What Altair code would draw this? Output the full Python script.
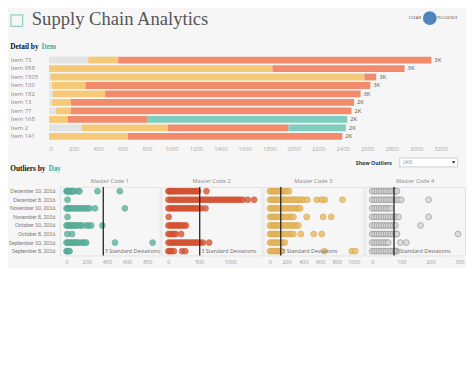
import altair as alt
import pandas as pd

# ---------------- Detail by Item ----------------
items = ["Item 73", "Item 958", "Item 1505", "Item 100", "Item 182",
         "Item 13", "Item 77", "Item 168", "Item 2", "Item 141"]
segment_names = ["Gray", "Yellow", "Orange", "Teal"]
segment_colors = ["#e3e3e3", "#f6c978", "#f28b6c", "#80ccbf"]
gray_vals = [320, 0, 13, 24, 32, 24, 58, 0, 266, 0]
yellow_vals = [245, 1826, 2565, 274, 426, 154, 120, 152, 704, 645]
orange_vals = [2560, 1080, 96, 2328, 2088, 2315, 2294, 648, 987, 1752]
teal_vals = [0, 0, 0, 0, 0, 0, 0, 1637, 469, 0]
total_labels = ["3K", "3K", "3K", "3K", "3K", "2K", "2K", "2K", "2K", "2K"]
bar_ticks = list(range(0, 3201, 200))

# ---------------- Outliers by Day ----------------
days = ["December 10, 2016", "December 8, 2016", "November 10, 2016", "November 8, 2016",
        "October 10, 2016", "October 8, 2016", "September 10, 2016", "September 8, 2016"]
panel_names = ["Master Code 1", "Master Code 2", "Master Code 3", "Master Code 4"]
std_dev = [364, 507, 130, 75]
panel_domains = [[-66, 923], [-109, 1506], [-77, 1115], [-24, 319]]
panel_ticks = [[0, 200, 400, 600, 800], [0, 500, 1000], [0, 200, 400, 600, 800, 1000], [0, 100, 200, 300]]
panel_fill = ["#5db39e", "#dc5533", "#ebba5c", "#d6d6d6"]
panel_stroke = ["#4fa590", "#c94a2a", "#d3a145", "#8e8e8e"]

mc1 = [
    [0, 8, 15, 22, 30, 38, 45, 55, 65, 75, 115, 128, 307, 528],
    [10],
    [0, 12, 25, 40, 55, 70, 90, 110, 130, 150, 170, 190, 210, 228, 282, 578],
    [10],
    [0, 12, 25, 40, 55, 70, 85, 100, 120, 140, 160, 200, 220, 245, 355],
    [8, 55],
    [0, 12, 25, 40, 55, 70, 85, 100, 115, 140, 160, 180, 195, 480, 853],
    [0, 10, 20, 30],
]
mc2 = [
    [0, 20, 40, 60, 80, 100, 130, 160, 190, 220, 250, 280, 310, 340, 370, 400, 430, 460, 480, 616],
    [0, 40, 80, 120, 160, 200, 240, 280, 320, 360, 400, 440, 480, 520, 560, 600, 640, 680, 720,
     760, 800, 840, 880, 920, 960, 1000, 1040, 1080, 1120, 1160, 1206, 1284, 1387],
    [0, 30, 60, 90, 120, 150, 180, 210, 240, 270, 300, 330, 360, 390, 420, 450, 480, 533, 600],
    [5],
    [0, 30, 60, 90, 120, 150, 180, 210, 250, 285],
    [0, 30, 60, 90, 120, 207],
    [0, 30, 60, 90, 120, 150, 180, 210, 240, 270, 300, 330, 360, 390, 420, 450, 480, 520, 560, 660],
    [0, 25, 50, 90, 222, 274],
]
mc3 = [
    [0, 20, 40, 60, 80, 100, 125, 150, 175, 200, 229],
    [0, 25, 50, 75, 100, 130, 160, 190, 220, 250, 280, 310, 340, 370, 400, 447, 561, 619, 656, 866],
    [0, 25, 50, 75, 100, 130, 160, 190, 220, 250, 280, 310, 340, 360],
    [0, 25, 50, 75, 100, 130, 160, 190, 220, 250, 280, 439, 637, 733],
    [0, 25, 50, 75, 100, 130, 160, 190, 220, 250, 280, 310, 340],
    [0, 25, 50, 75, 100, 130, 160, 190, 220, 250, 280, 370, 523, 619],
    [0, 25, 50, 75, 100, 130, 155, 180],
    [0, 25, 50, 75, 100, 120, 140, 650, 980, 1020],
]
mc4 = [
    [0, 8, 16, 24, 32, 40, 48, 56, 64, 72, 80, 85],
    [0, 8, 16, 24, 32, 40, 48, 56, 64, 72, 80, 90, 100, 194],
    [0, 8, 16, 24, 32, 40, 48, 56, 64],
    [0, 8, 16, 24, 32, 40, 48, 56, 64, 72, 80, 90, 194],
    [0, 8, 16, 24, 32, 40, 48, 56, 64, 72, 80, 166],
    [0, 8, 16, 24, 32, 40, 48, 56, 64, 72, 80, 85, 295],
    [0, 8, 16, 24, 32, 40, 48, 55, 97, 117],
    [0, 8, 16, 24, 32, 40, 48, 56, 64, 72, 80, 85],
]
panel_values = [mc1, mc2, mc3, mc4]

texts = {
    "title": "Supply Chain Analytics",
    "detail": "Detail by",
    "item": "Item",
    "outliers": "Outliers by",
    "day": "Day",
    "show": "Show Outliers",
    "all": "(All)",
    "sd": "3 Standard Deviations",
    "clear": "CLEAR",
    "tell": "TELLIGENCE",
}

SERIF = "Liberation Serif"
SANS = "Open Sans"
TEAL_TXT = "#3aaea0"
dummy = pd.DataFrame({"k": [0]})
LEFT = -39.7          # left edge of the page area relative to the plot origin
PANEL_W = 102
PANEL_H = 70


def txt(s, x, y, size, color="#333", weight="normal", font=SERIF, align="left"):
    return alt.Chart(dummy).mark_text(
        text=s, align=align, baseline="middle", fontSize=size, color=color,
        fontWeight=weight, font=font
    ).encode(x=alt.value(x), y=alt.value(y))


# ---------- header ----------
icon = alt.Chart(dummy).mark_square(size=140, filled=False, color="#6cc1b3", strokeWidth=1.3).encode(
    x=alt.value(-33), y=alt.value(10))
logo = alt.Chart(dummy).mark_circle(size=200, color="#3f78b5", opacity=0.9).encode(
    x=alt.value(389), y=alt.value(7.5))
header = alt.layer(
    icon,
    txt(texts["title"], -17.7, 9, 19, "#555"),
    txt(texts["clear"], 380, 7.5, 4.2, "#555", font=SANS, align="right"),
    logo,
    txt(texts["tell"], 396, 7.5, 3.8, "#555", font=SANS),
    txt(texts["detail"], LEFT, 37, 7.5, "#111", "bold"),
    txt(texts["item"], LEFT + 32, 37, 7.5, TEAL_TXT, "bold"),
).properties(width=418, height=45.7, view=alt.ViewBackground(stroke=None))

# ---------- bar chart ----------
seg_lists = [gray_vals, yellow_vals, orange_vals, teal_vals]
bar_rows = []
for i, it in enumerate(items):
    for j, seg in enumerate(segment_names):
        bar_rows.append({"item": it, "segment": seg, "idx": j, "value": seg_lists[j][i]})
bar_df = pd.DataFrame(bar_rows)
tot_df = pd.DataFrame({
    "item": items,
    "total": [sum(s[i] for s in seg_lists) for i in range(len(items))],
    "label": total_labels,
})

y_bar = alt.Y("item:N", sort=items, title=None,
              scale=alt.Scale(paddingInner=0.2, paddingOuter=0.1),
              axis=alt.Axis(labelAlign="left", labelPadding=-LEFT, ticks=False, domain=False,
                            labelFontSize=6, labelColor="#888", labelFont=SANS))
x_scale = alt.Scale(domain=[0, 3300], nice=False)
x_axis = alt.Axis(values=bar_ticks, title=None, ticks=False, grid=False, domain=False, format="d",
                  labelFontSize=6, labelColor="#aaa", labelPadding=5, labelFont=SANS)

bars = alt.Chart(bar_df).mark_bar().encode(
    y=y_bar,
    x=alt.X("value:Q", stack="zero", scale=x_scale, axis=x_axis),
    color=alt.Color("segment:N", scale=alt.Scale(domain=segment_names, range=segment_colors), legend=None),
    order=alt.Order("idx:Q"),
)
bar_text = alt.Chart(tot_df).mark_text(align="left", dx=3, fontSize=6, color="#555", font=SANS).encode(
    y=alt.Y("item:N", sort=items),
    x=alt.X("total:Q", scale=x_scale, axis=x_axis),
    text="label:N",
)
bar_chart = alt.layer(bars, bar_text).properties(
    width=412.5, height=86.7, view=alt.ViewBackground(stroke=None))

# ---------- outlier header ----------
drop_box = alt.Chart(dummy).mark_rect(fill="white", stroke="#bbb", strokeWidth=0.7).encode(
    x=alt.value(358.3), x2=alt.value(417.5), y=alt.value(6.5), y2=alt.value(15.5))
out_header = alt.layer(
    txt(texts["outliers"], LEFT, 17.5, 7.5, "#111", "bold"),
    txt(texts["day"], LEFT + 39, 17.5, 7.5, TEAL_TXT, "bold"),
    txt(texts["show"], 350.3, 11.5, 5.3, "#333", "bold", font=SANS, align="right"),
    drop_box,
    txt(texts["all"], 362, 11, 5.3, "#888", font=SANS),
    txt("\u25be", 415, 11, 6, "#333", font=SANS, align="right"),
).properties(width=418, height=25.3, view=alt.ViewBackground(stroke=None))

# ---------- outlier panels ----------
ysc = alt.Scale(domain=days, paddingInner=0, paddingOuter=0)

row_labels = alt.Chart(pd.DataFrame({"day": days})).mark_text(
    align="right", baseline="middle", fontSize=5.3, font="Lato", color="#777"
).encode(
    y=alt.Y("day:N", sort=days, scale=ysc, axis=None),
    x=alt.value(6.6),
    text="day:N",
).properties(width=9.6, height=PANEL_H, view=alt.ViewBackground(stroke=None))


def panel(k):
    rows = [{"day": d, "value": v} for d, vals in zip(days, panel_values[k]) for v in vals]
    df = pd.DataFrame(rows)
    xsc = alt.Scale(domain=panel_domains[k], nice=False, zero=False)
    xax = alt.Axis(values=panel_ticks[k], title=None, grid=False, ticks=False, domain=False, format="d",
                   labelFontSize=5.5, labelColor="#999", labelPadding=4, labelFont=SANS)
    pts = alt.Chart(df).mark_circle(size=36, opacity=0.8, color=panel_fill[k], stroke=panel_stroke[k],
                                    strokeWidth=0.8, clip=True).encode(
        x=alt.X("value:Q", scale=xsc, axis=xax),
        y=alt.Y("day:N", sort=days, scale=ysc, axis=None),
    )
    sd_df = pd.DataFrame({"sd": [std_dev[k]], "label": [texts["sd"]], "day": [days[-1]]})
    rule = alt.Chart(sd_df).mark_rule(color="#222", strokeWidth=1.3).encode(
        x=alt.X("sd:Q", scale=xsc, axis=xax))
    lab = alt.Chart(sd_df).mark_text(align="left", dx=1.5, fontSize=5.5, color="#666", font=SANS).encode(
        x=alt.X("sd:Q", scale=xsc, axis=xax),
        y=alt.Y("day:N", sort=days, scale=ysc, axis=None),
        text="label:N",
    )
    return alt.layer(pts, rule, lab).properties(
        width=PANEL_W, height=PANEL_H,
        view=alt.ViewBackground(stroke="#e3e3e3"),
        title=alt.TitleParams(panel_names[k], fontSize=5.8, color="#888", fontWeight="normal",
                              font=SANS, offset=3, anchor="middle"),
    )


panels = alt.hconcat(row_labels, *[panel(k) for k in range(4)], spacing=0)

chart = alt.vconcat(header, bar_chart, out_header, panels, spacing=0).configure(
    background="#f6f6f6", padding=0
).configure_view(stroke=None)

chart.save("out.html", embed_options={"renderer": "svg", "actions": False})
